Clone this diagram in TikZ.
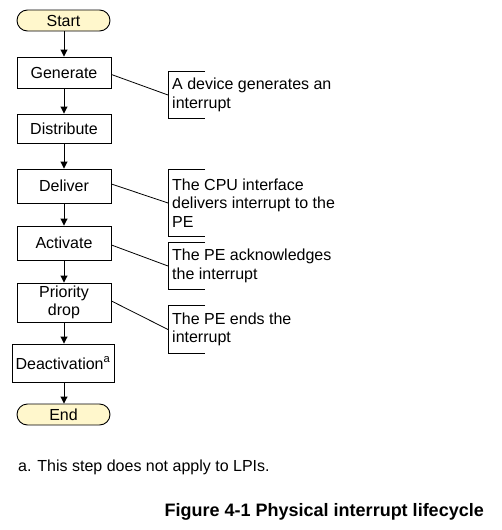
\documentclass[tikz,border=0pt]{standalone}
\usepackage{fontspec}
\setmainfont{Liberation Sans}
\usetikzlibrary{arrows.meta}
\definecolor{termfill}{HTML}{FFF7CC}
\begin{document}
\begin{tikzpicture}[x=1pt,y=-1pt,
  every node/.style={font=\fontsize{16}{18.5}\selectfont},
  stepbox/.style={draw, line width=0.9pt, minimum width=94, inner sep=0, align=center},
  term/.style={draw, line width=0.9pt, fill=termfill, minimum width=93, minimum height=21, inner sep=0, rounded corners=10.5},
  note/.style={anchor=west, inner xsep=4, inner ysep=0, align=left},
  arr/.style={line width=0.9pt, -{Triangle[width=7pt,length=7pt]}},
  link/.style={line width=0.8pt},
  brk/.style={line width=0.9pt}]
\useasboundingbox (0,0) rectangle (501,530);

\node[term] (start) at (63.5,20.5) {Start};
\node[stepbox, minimum height=31] (gen) at (64,72.5) {Generate};
\node[stepbox, minimum height=29] (dist) at (64,128.5) {Distribute};
\node[stepbox, minimum height=34] (deliv) at (64,186) {Deliver};
\node[stepbox, minimum height=34] (act) at (64,243) {Activate};
\node[stepbox, minimum height=39] (prio) at (64,302.5) {Priority\\drop};
\node[stepbox, minimum width=102, minimum height=38] (deact) at (63,363) {Deactivation\textsuperscript{a}};
\node[term] (end) at (63.5,414.5) {End};

\draw[arr] (start.south -| gen.north) -- (gen.north);
\draw[arr] (gen) -- (dist);
\draw[arr] (dist) -- (deliv);
\draw[arr] (deliv) -- (act);
\draw[arr] (act) -- (prio);
\draw[arr] (prio.south) -- (prio.south |- deact.north);
\draw[arr] (deact.south -| prio.south) -- (prio.south |- end.north);

\node[note, minimum height=46] (n1) at (168,95) {A device generates an\\interrupt};
\node[note, minimum height=66] (n2) at (168,203) {The CPU interface\\delivers interrupt to the\\PE};
\node[note, minimum height=46] (n3) at (168,266) {The PE acknowledges\\the interrupt};
\node[note, minimum height=47] (n4) at (168,329.5) {The PE ends the\\interrupt};

\foreach \n in {n1,n2,n3,n4}{
  \draw[brk] ([xshift=37]\n.north west) -- (\n.north west) -- (\n.south west) -- ([xshift=37]\n.south west);
}

\draw[link] ([yshift=-2]gen.east) -- (n1.west);
\draw[link] ([yshift=2]deliv.east) -- (n2.west);
\draw[link] ([yshift=-2]act.east) -- (n3.west);
\draw[link] ([yshift=1.5]prio.east) -- (n4.west);

\node[anchor=base west, inner sep=0] (foot) at (18,471) {a. This step does not apply to LPIs.};
\node[anchor=base east, inner sep=0, font=\fontsize{18}{21}\selectfont\bfseries] (cap) at (484,516) {Figure 4-1 Physical interrupt lifecycle};
\end{tikzpicture}
\end{document}
